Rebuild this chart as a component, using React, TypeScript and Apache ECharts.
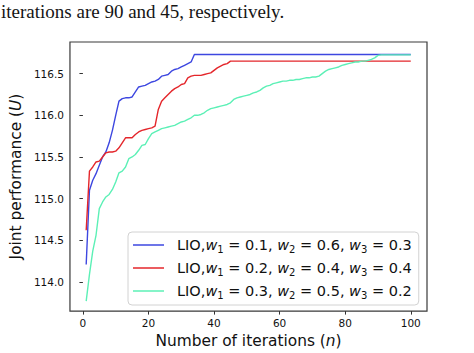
import React, { useEffect, useRef } from "react";
import * as echarts from "echarts";

const headerText = "iterations are 90 and 45, respectively.";
const xTicks = [0, 20, 40, 60, 80, 100];
const yTicks = [114.0, 114.5, 115.0, 115.5, 116.0, 116.5];
const iterations = Array.from({ length: 100 }, (_, i) => i + 1);

const seriesNames = ["lio1", "lio2", "lio3"];
const legendLabels = [
  "{sp|}LIO,{i|w}{s|1} = 0.1, {i|w}{s|2} = 0.6, {i|w}{s|3} = 0.3",
  "{sp|}LIO,{i|w}{s|1} = 0.2, {i|w}{s|2} = 0.4, {i|w}{s|3} = 0.4",
  "{sp|}LIO,{i|w}{s|1} = 0.3, {i|w}{s|2} = 0.5, {i|w}{s|3} = 0.2",
];
const colors = ["#3d47e0", "#e4262b", "#5cf0b6"];

const blue = [
  114.21, 115.10, 115.22, 115.30, 115.40, 115.50, 115.56, 115.67, 115.82, 116.0,
  116.17, 116.20, 116.21, 116.21, 116.22, 116.28, 116.34, 116.35, 116.36, 116.38,
  116.40, 116.41, 116.43, 116.47, 116.48, 116.49, 116.53, 116.55, 116.56, 116.58,
  116.60, 116.62, 116.64, 116.73, 116.73, 116.73, 116.73, 116.73, 116.73, 116.73,
  116.73, 116.73, 116.73, 116.73, 116.73, 116.73, 116.73, 116.73, 116.73, 116.73,
  116.73, 116.73, 116.73, 116.73, 116.73, 116.73, 116.73, 116.73, 116.73, 116.73,
  116.73, 116.73, 116.73, 116.73, 116.73, 116.73, 116.73, 116.73, 116.73, 116.73,
  116.73, 116.73, 116.73, 116.73, 116.73, 116.73, 116.73, 116.73, 116.73, 116.73,
  116.73, 116.73, 116.73, 116.73, 116.73, 116.73, 116.73, 116.73, 116.73, 116.73,
  116.73, 116.73, 116.73, 116.73, 116.73, 116.73, 116.73, 116.73, 116.73, 116.73,
];

const red = [
  114.62, 115.33, 115.38, 115.44, 115.45, 115.50, 115.55, 115.56, 115.56, 115.57,
  115.61, 115.67, 115.73, 115.73, 115.73, 115.77, 115.80, 115.82, 115.83, 115.84,
  115.85, 115.87, 116.07, 116.17, 116.21, 116.25, 116.29, 116.32, 116.34, 116.37,
  116.38, 116.45, 116.47, 116.48, 116.48, 116.48, 116.49, 116.50, 116.51, 116.54,
  116.57, 116.59, 116.61, 116.62, 116.65, 116.65, 116.65, 116.65, 116.65, 116.65,
  116.65, 116.65, 116.65, 116.65, 116.65, 116.65, 116.65, 116.65, 116.65, 116.65,
  116.65, 116.65, 116.65, 116.65, 116.65, 116.65, 116.65, 116.65, 116.65, 116.65,
  116.65, 116.65, 116.65, 116.65, 116.65, 116.65, 116.65, 116.65, 116.65, 116.65,
  116.65, 116.65, 116.65, 116.65, 116.65, 116.65, 116.65, 116.65, 116.65, 116.65,
  116.65, 116.65, 116.65, 116.65, 116.65, 116.65, 116.65, 116.65, 116.65, 116.65,
];

const green = [
  113.77, 114.09, 114.37, 114.56, 114.88, 114.96, 115.02, 115.05, 115.11, 115.20,
  115.31, 115.33, 115.38, 115.48, 115.50, 115.53, 115.58, 115.64, 115.65, 115.72,
  115.78, 115.80, 115.82, 115.84, 115.85, 115.86, 115.87, 115.88, 115.90, 115.92,
  115.93, 115.95, 115.97, 116.00, 116.00, 116.01, 116.03, 116.06, 116.08, 116.09,
  116.10, 116.11, 116.12, 116.13, 116.15, 116.19, 116.21, 116.22, 116.23, 116.24,
  116.25, 116.27, 116.28, 116.30, 116.33, 116.35, 116.36, 116.38, 116.39, 116.40,
  116.41, 116.41, 116.42, 116.42, 116.43, 116.43, 116.44, 116.45, 116.45, 116.46,
  116.46, 116.47, 116.50, 116.53, 116.55, 116.56, 116.57, 116.58, 116.60, 116.61,
  116.62, 116.63, 116.64, 116.64, 116.65, 116.65, 116.66, 116.67, 116.69, 116.72,
  116.725, 116.725, 116.725, 116.725, 116.725, 116.725, 116.725, 116.725, 116.725, 116.725,
];

const seriesValues = [blue, red, green];

const FONT = "DejaVu Sans";

export default function App() {
  const ref = useRef<HTMLDivElement>(null);
  useEffect(() => {
    if (!ref.current) return;
    const chart = echarts.init(ref.current, undefined, { renderer: "svg" });
    const option: any = {
      animation: false,
      backgroundColor: "#ffffff",
      textStyle: { fontFamily: FONT },
      grid: {
        left: 60,
        right: 47,
        top: 42,
        bottom: 40,
        show: true,
        borderColor: "#3a3a3a",
        borderWidth: 1.2,
        backgroundColor: "transparent",
      },
      graphic: [
        {
          type: "text",
          x: 1,
          y: 2,
          style: {
            text: headerText,
            fontFamily: "Liberation Serif",
            fontSize: 19,
            fill: "#151515",
            verticalAlign: "top",
          },
        },
      ],
      xAxis: {
        type: "value",
        min: -3.95,
        max: 104.95,
        axisLine: { show: false },
        splitLine: { show: false },
        axisTick: {
          show: true,
          length: 3.5,
          lineStyle: { color: "#333", width: 1 },
          customValues: xTicks,
        },
        axisLabel: {
          customValues: xTicks,
          fontSize: 10.5,
          color: "#111",
          margin: 6,
          fontFamily: FONT,
        },
        name: "Number of iterations ({i|n})",
        nameLocation: "middle",
        nameGap: 19,
        nameTextStyle: {
          fontSize: 15.4,
          color: "#111",
          fontFamily: FONT,
          rich: { i: { fontStyle: "italic", fontSize: 15.4, fontFamily: FONT, color: "#111" } },
        },
      },
      yAxis: {
        type: "value",
        min: 113.65,
        max: 116.88,
        axisLine: { show: false },
        splitLine: { show: false },
        axisTick: {
          show: true,
          length: 3.5,
          lineStyle: { color: "#333", width: 1 },
          customValues: yTicks,
        },
        axisLabel: {
          customValues: yTicks,
          fontSize: 10.5,
          color: "#111",
          margin: 6,
          fontFamily: FONT,
          formatter: (v: number) => v.toFixed(1),
        },
        name: "Joint performance ({i|U})",
        nameLocation: "middle",
        nameGap: 44,
        nameTextStyle: {
          fontSize: 15.4,
          color: "#111",
          fontFamily: FONT,
          rich: { i: { fontStyle: "italic", fontSize: 15.4, fontFamily: FONT, color: "#111" } },
        },
      },
      legend: {
        orient: "vertical",
        left: 128,
        top: 232,
        itemWidth: 31,
        itemHeight: 14,
        itemGap: 5,
        padding: [4, 7, 5, 5],
        icon: "path://M0,0H62V3H0Z",
        itemStyle: { borderWidth: 0 },
        backgroundColor: "rgba(255,255,255,0.85)",
        borderColor: "#d2d2d2",
        borderWidth: 1,
        borderRadius: 4,
        data: seriesNames,
        formatter: (name: string) => legendLabels[seriesNames.indexOf(name)],
        textStyle: {
          fontSize: 14.5,
          color: "#111",
          fontFamily: FONT,
          lineHeight: 18,
          rich: {
            sp: { width: 8 },
            i: { fontStyle: "italic", fontSize: 14.5, fontFamily: FONT, lineHeight: 18, color: "#111" },
            s: { fontSize: 10, fontFamily: FONT, lineHeight: 9, verticalAlign: "bottom", color: "#111" },
          },
        },
      },
      series: seriesValues.map((vals, k) => ({
        type: "line",
        name: seriesNames[k],
        data: vals.map((v, i) => [iterations[i], v]),
        symbol: "none",
        showSymbol: false,
        lineStyle: { color: colors[k], width: 1.4 },
        itemStyle: { color: colors[k] },
        z: 2 + k,
      })),
    };
    chart.setOption(option);
    return () => chart.dispose();
  }, []);
  return (
    <div
      ref={ref}
      style={{ position: "fixed", left: 0, top: 0, width: 474, height: 353 }}
    />
  );
}
